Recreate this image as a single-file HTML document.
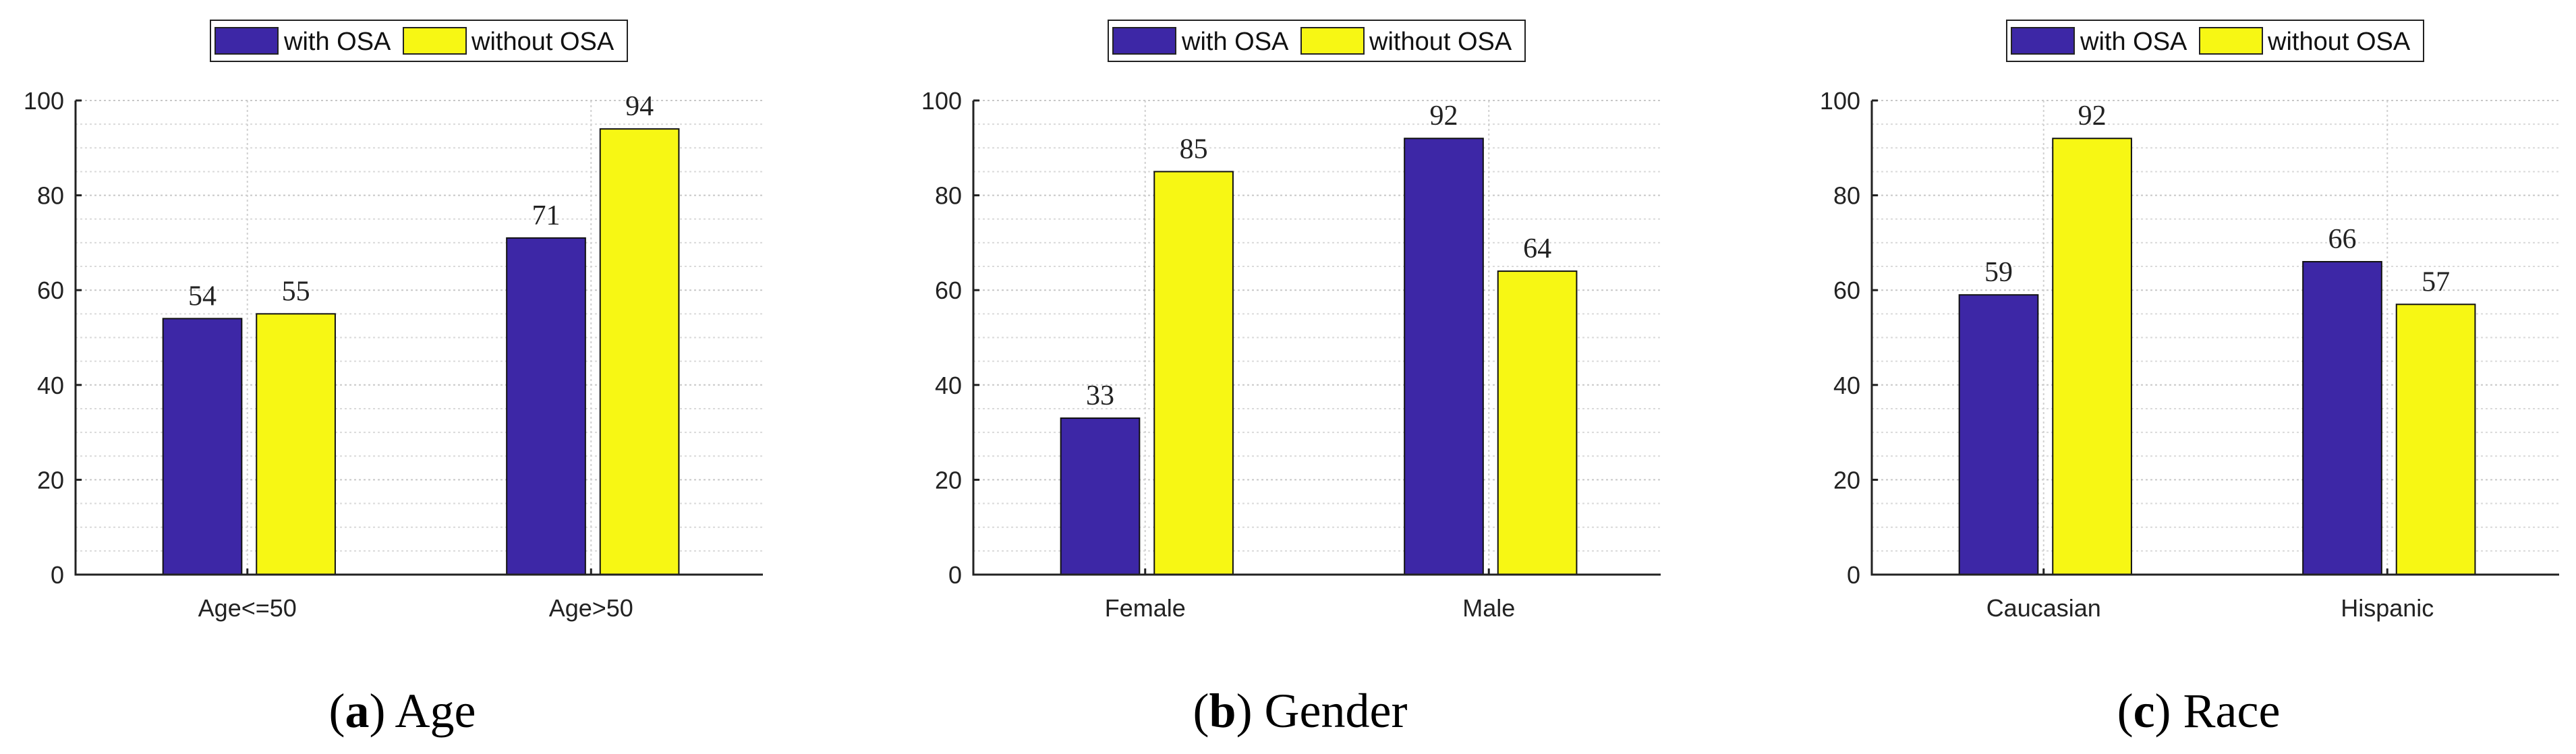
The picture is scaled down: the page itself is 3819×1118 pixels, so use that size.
<!DOCTYPE html>
<html><head><meta charset="utf-8"><style>
html,body{margin:0;padding:0;background:#fff;}
svg{display:block;}
</style></head><body>
<svg id="fig" width="3819" height="1118" viewBox="0 0 3819 1118" xmlns="http://www.w3.org/2000/svg"></svg>
<script>
const seriesNames = ["with OSA", "without OSA"];
const panelCategories = [["Age<=50", "Age>50"], ["Female", "Male"], ["Caucasian", "Hispanic"]];
const withOSA = [[54, 71], [33, 92], [59, 66]];
const withoutOSA = [[55, 94], [85, 64], [92, 57]];
const yTicks = [0, 20, 40, 60, 80, 100];
const captionLetters = ["a", "b", "c"];
const captionTitles = ["Age", "Gender", "Race"];

const NS = "http://www.w3.org/2000/svg";
const svg = document.getElementById("fig");
const panelLeft = [112, 1443, 2775];
const axW = 1019, yTop = 149, yBot = 852;
const colors = ["#3d27a6", "#f7f714"];

function mk(tag, attrs, parent) {
  const e = document.createElementNS(NS, tag);
  for (const k in attrs) e.setAttribute(k, attrs[k]);
  parent.appendChild(e);
  return e;
}

for (let p = 0; p < 3; p++) {
  const L = panelLeft[p];
  const g = mk("g", {}, svg);
  
  
  const xs = v => L + (v - 0.5) / 2 * axW;
  const ys = v => yBot - v / 100 * (yBot - yTop);

  // horizontal grid
  for (let v = 5; v <= 100; v += 5) {
    const major = v % 20 === 0;
    const ln = mk("line", {x1: L, x2: L + axW, y1: ys(v), y2: ys(v), stroke: major ? "#c8c8c8" : "#dadada", "stroke-width": 2, "stroke-dasharray": "3,4"}, g);
    
    
  }
  // vertical grid
  for (let i = 0; i < 2; i++) {
    const ln = mk("line", {x1: xs(i + 1), x2: xs(i + 1), y1: yTop, y2: yBot, stroke: "#d0d0d0", "stroke-width": 2, "stroke-dasharray": "3,4"}, g);
    
    
  }
  // bars
  const sets = [withOSA[p], withoutOSA[p]];
  const offs = [-0.131, 0.141];
  const bw = 0.229;
  for (let s = 0; s < 2; s++) {
    for (let i = 0; i < 2; i++) {
      const v = sets[s][i];
      const cx = xs(i + 1 + offs[s]);
      const w = bw / 2 * axW;
      const r = mk("rect", {x: cx - w / 2, y: ys(v), width: w, height: ys(0) - ys(v), fill: colors[s], stroke: "#111", "stroke-width": 2}, g);
      
      
      const t = mk("text", {x: cx, y: ys(v) - 20, "text-anchor": "middle", "font-family": "Liberation Serif, serif", "font-size": 42, fill: "#222"}, g);
      t.textContent = v;
      
      
    }
  }
  // axes
  const ax = mk("path", {d: `M${L} ${yTop}V${yBot}H${L + axW}`, fill: "none", stroke: "#222", "stroke-width": 3}, g);
  
  
  yTicks.forEach(v => {
    const tk = mk("line", {x1: L, x2: L + 9, y1: ys(v), y2: ys(v), stroke: "#222", "stroke-width": 3}, g);
    
    
    const t = mk("text", {x: L - 17, y: ys(v) + 13, "text-anchor": "end", "font-family": "Liberation Sans, sans-serif", "font-size": 36, fill: "#222"}, g);
    t.textContent = v;
    
    
  });
  for (let i = 0; i < 2; i++) {
    const tk = mk("line", {x1: xs(i + 1), x2: xs(i + 1), y1: yBot, y2: yBot - 9, stroke: "#222", "stroke-width": 3}, g);
    
    
    const t = mk("text", {x: xs(i + 1), y: 914, "text-anchor": "middle", "font-family": "Liberation Sans, sans-serif", "font-size": 36, fill: "#222"}, g);
    t.textContent = panelCategories[p][i];
    
    
  }
  // legend
  const lx = L + 200, ly = 30;
  const lg = mk("g", {}, g);
  
  
  mk("rect", {x: lx, y: ly, width: 618, height: 61, fill: "#fff", stroke: "#222", "stroke-width": 2}, lg);
  const swX = [7, 286], txX = [109, 387];
  for (let s = 0; s < 2; s++) {
    const sw = mk("rect", {x: lx + swX[s], y: ly + 11, width: 93, height: 39, fill: colors[s], stroke: "#222", "stroke-width": 2}, lg);
    
    
    const t = mk("text", {x: lx + txX[s], y: ly + 44, "font-family": "Liberation Sans, sans-serif", "font-size": 38, fill: "#111"}, lg);
    t.textContent = seriesNames[s];
    
    
  }
  // caption
  const c = mk("text", {x: L + axW / 2 - 25, y: 1078, "text-anchor": "middle", "font-family": "Liberation Serif, serif", "font-size": 72, fill: "#000"}, g);
  
  
  const t1 = mk("tspan", {}, c); t1.textContent = "(";
  const t2 = mk("tspan", {"font-weight": "bold"}, c); t2.textContent = captionLetters[p];
  const t3 = mk("tspan", {}, c); t3.textContent = ") " + captionTitles[p];
}
</script>
</body></html>
